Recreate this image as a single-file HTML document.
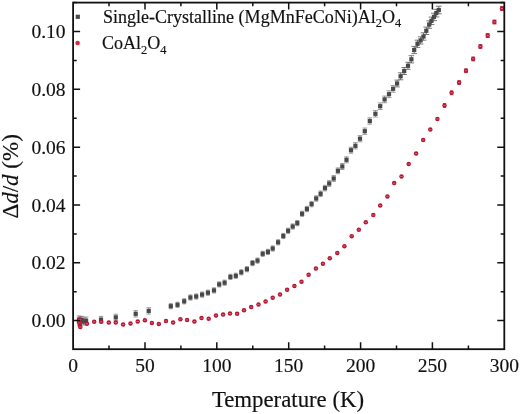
<!DOCTYPE html><html><head><meta charset="utf-8"><title>Thermal expansion</title><style>html,body{margin:0;padding:0;background:#fff}svg{display:block}text{font-family:"Liberation Serif","DejaVu Serif",serif;fill:#111;stroke:#111;stroke-width:0.16px}</style></head><body>
<svg width="520" height="414" viewBox="0 0 520 414">
<rect width="520" height="414" fill="#fff"/>
<g stroke="#606060" stroke-width="0.6" fill="#484848">
<path d="M79.0 315.9V323.1M76.6 315.9H81.4M76.6 323.1H81.4" fill="none"/><rect x="76.9" y="317.4" width="4.2" height="4.2" stroke="none"/>
<path d="M80.5 316.9V324.1M78.1 316.9H82.9M78.1 324.1H82.9" fill="none"/><rect x="78.4" y="318.4" width="4.2" height="4.2" stroke="none"/>
<path d="M82.0 316.4V323.6M79.6 316.4H84.4M79.6 323.6H84.4" fill="none"/><rect x="79.9" y="317.9" width="4.2" height="4.2" stroke="none"/>
<path d="M83.5 317.9V325.1M81.1 317.9H85.9M81.1 325.1H85.9" fill="none"/><rect x="81.4" y="319.4" width="4.2" height="4.2" stroke="none"/>
<path d="M86.1 317.0V324.2M83.7 317.0H88.5M83.7 324.2H88.5" fill="none"/><rect x="84.0" y="318.5" width="4.2" height="4.2" stroke="none"/>
<path d="M101.0 316.4V322.8M98.7 316.4H103.3M98.7 322.8H103.3" fill="none"/><rect x="98.9" y="317.5" width="4.2" height="4.2" stroke="none"/>
<path d="M115.8 314.2V320.6M113.5 314.2H118.1M113.5 320.6H118.1" fill="none"/><rect x="113.7" y="315.3" width="4.2" height="4.2" stroke="none"/>
<path d="M135.7 310.6V317.0M133.4 310.6H138.0M133.4 317.0H138.0" fill="none"/><rect x="133.6" y="311.7" width="4.2" height="4.2" stroke="none"/>
<path d="M148.7 307.7V314.1M146.4 307.7H151.0M146.4 314.1H151.0" fill="none"/><rect x="146.6" y="308.8" width="4.2" height="4.2" stroke="none"/>
<path d="M170.8 303.6V308.8M168.9 303.6H172.7M168.9 308.8H172.7" fill="none"/><rect x="168.7" y="304.1" width="4.2" height="4.2" stroke="none"/>
<path d="M177.5 302.2V307.4M175.6 302.2H179.4M175.6 307.4H179.4" fill="none"/><rect x="175.4" y="302.7" width="4.2" height="4.2" stroke="none"/>
<path d="M184.2 298.7V303.9M182.3 298.7H186.1M182.3 303.9H186.1" fill="none"/><rect x="182.1" y="299.2" width="4.2" height="4.2" stroke="none"/>
<path d="M190.4 294.9V300.1M188.5 294.9H192.3M188.5 300.1H192.3" fill="none"/><rect x="188.3" y="295.4" width="4.2" height="4.2" stroke="none"/>
<path d="M196.2 293.9V299.1M194.3 293.9H198.1M194.3 299.1H198.1" fill="none"/><rect x="194.1" y="294.4" width="4.2" height="4.2" stroke="none"/>
<path d="M202.1 292.0V297.2M200.2 292.0H204.0M200.2 297.2H204.0" fill="none"/><rect x="200.0" y="292.5" width="4.2" height="4.2" stroke="none"/>
<path d="M207.9 290.1V295.3M206.0 290.1H209.8M206.0 295.3H209.8" fill="none"/><rect x="205.8" y="290.6" width="4.2" height="4.2" stroke="none"/>
<path d="M214.0 287.8V293.0M212.1 287.8H215.9M212.1 293.0H215.9" fill="none"/><rect x="211.9" y="288.3" width="4.2" height="4.2" stroke="none"/>
<path d="M219.2 281.8V287.0M217.3 281.8H221.1M217.3 287.0H221.1" fill="none"/><rect x="217.1" y="282.3" width="4.2" height="4.2" stroke="none"/>
<path d="M224.6 280.1V285.3M222.7 280.1H226.5M222.7 285.3H226.5" fill="none"/><rect x="222.5" y="280.6" width="4.2" height="4.2" stroke="none"/>
<path d="M230.4 274.3V279.5M228.5 274.3H232.3M228.5 279.5H232.3" fill="none"/><rect x="228.3" y="274.8" width="4.2" height="4.2" stroke="none"/>
<path d="M235.8 273.2V278.4M233.9 273.2H237.7M233.9 278.4H237.7" fill="none"/><rect x="233.7" y="273.7" width="4.2" height="4.2" stroke="none"/>
<path d="M241.3 269.7V274.9M239.4 269.7H243.2M239.4 274.9H243.2" fill="none"/><rect x="239.2" y="270.2" width="4.2" height="4.2" stroke="none"/>
<path d="M246.9 266.6V271.8M245.0 266.6H248.8M245.0 271.8H248.8" fill="none"/><rect x="244.8" y="267.1" width="4.2" height="4.2" stroke="none"/>
<path d="M252.5 260.5V265.7M250.6 260.5H254.4M250.6 265.7H254.4" fill="none"/><rect x="250.4" y="261.0" width="4.2" height="4.2" stroke="none"/>
<path d="M257.5 258.0V263.2M255.6 258.0H259.4M255.6 263.2H259.4" fill="none"/><rect x="255.4" y="258.5" width="4.2" height="4.2" stroke="none"/>
<path d="M262.7 251.2V256.4M260.8 251.2H264.6M260.8 256.4H264.6" fill="none"/><rect x="260.6" y="251.7" width="4.2" height="4.2" stroke="none"/>
<path d="M267.9 249.3V254.5M266.0 249.3H269.8M266.0 254.5H269.8" fill="none"/><rect x="265.8" y="249.8" width="4.2" height="4.2" stroke="none"/>
<path d="M272.7 245.9V251.1M270.8 245.9H274.6M270.8 251.1H274.6" fill="none"/><rect x="270.6" y="246.4" width="4.2" height="4.2" stroke="none"/>
<path d="M278.1 239.7V244.9M276.2 239.7H280.0M276.2 244.9H280.0" fill="none"/><rect x="276.0" y="240.2" width="4.2" height="4.2" stroke="none"/>
<path d="M283.3 233.4V238.6M281.4 233.4H285.2M281.4 238.6H285.2" fill="none"/><rect x="281.2" y="233.9" width="4.2" height="4.2" stroke="none"/>
<path d="M288.1 228.2V233.4M286.2 228.2H290.0M286.2 233.4H290.0" fill="none"/><rect x="286.0" y="228.7" width="4.2" height="4.2" stroke="none"/>
<path d="M292.7 223.9V229.1M290.8 223.9H294.6M290.8 229.1H294.6" fill="none"/><rect x="290.6" y="224.4" width="4.2" height="4.2" stroke="none"/>
<path d="M297.3 220.5V225.7M295.4 220.5H299.2M295.4 225.7H299.2" fill="none"/><rect x="295.2" y="221.0" width="4.2" height="4.2" stroke="none"/>
<path d="M302.1 211.2V216.4M300.2 211.2H304.0M300.2 216.4H304.0" fill="none"/><rect x="300.0" y="211.7" width="4.2" height="4.2" stroke="none"/>
<path d="M306.9 206.3V211.7M304.9 206.3H308.9M304.9 211.7H308.9" fill="none"/><rect x="304.8" y="206.9" width="4.2" height="4.2" stroke="none"/>
<path d="M311.6 201.4V206.8M309.6 201.4H313.6M309.6 206.8H313.6" fill="none"/><rect x="309.5" y="202.0" width="4.2" height="4.2" stroke="none"/>
<path d="M316.2 195.8V201.2M314.2 195.8H318.2M314.2 201.2H318.2" fill="none"/><rect x="314.1" y="196.4" width="4.2" height="4.2" stroke="none"/>
<path d="M320.6 191.0V196.6M318.5 191.0H322.7M318.5 196.6H322.7" fill="none"/><rect x="318.5" y="191.7" width="4.2" height="4.2" stroke="none"/>
<path d="M325.0 185.3V190.9M322.9 185.3H327.1M322.9 190.9H327.1" fill="none"/><rect x="322.9" y="186.0" width="4.2" height="4.2" stroke="none"/>
<path d="M329.2 180.6V186.4M327.1 180.6H331.3M327.1 186.4H331.3" fill="none"/><rect x="327.1" y="181.4" width="4.2" height="4.2" stroke="none"/>
<path d="M333.7 175.6V181.4M331.5 175.6H335.9M331.5 181.4H335.9" fill="none"/><rect x="331.6" y="176.4" width="4.2" height="4.2" stroke="none"/>
<path d="M337.9 167.9V173.7M335.7 167.9H340.1M335.7 173.7H340.1" fill="none"/><rect x="335.8" y="168.7" width="4.2" height="4.2" stroke="none"/>
<path d="M342.3 163.5V169.5M340.1 163.5H344.5M340.1 169.5H344.5" fill="none"/><rect x="340.2" y="164.4" width="4.2" height="4.2" stroke="none"/>
<path d="M346.5 156.8V162.8M344.2 156.8H348.8M344.2 162.8H348.8" fill="none"/><rect x="344.4" y="157.7" width="4.2" height="4.2" stroke="none"/>
<path d="M351.0 147.2V153.2M348.7 147.2H353.3M348.7 153.2H353.3" fill="none"/><rect x="348.9" y="148.1" width="4.2" height="4.2" stroke="none"/>
<path d="M355.4 142.7V148.9M353.1 142.7H357.7M353.1 148.9H357.7" fill="none"/><rect x="353.3" y="143.7" width="4.2" height="4.2" stroke="none"/>
<path d="M360.0 135.6V141.8M357.6 135.6H362.4M357.6 141.8H362.4" fill="none"/><rect x="357.9" y="136.6" width="4.2" height="4.2" stroke="none"/>
<path d="M364.8 128.0V134.4M362.4 128.0H367.2M362.4 134.4H367.2" fill="none"/><rect x="362.7" y="129.1" width="4.2" height="4.2" stroke="none"/>
<path d="M369.8 117.8V124.2M367.4 117.8H372.2M367.4 124.2H372.2" fill="none"/><rect x="367.7" y="118.9" width="4.2" height="4.2" stroke="none"/>
<path d="M375.4 110.6V117.0M372.9 110.6H377.9M372.9 117.0H377.9" fill="none"/><rect x="373.3" y="111.7" width="4.2" height="4.2" stroke="none"/>
<path d="M380.2 102.9V109.5M377.7 102.9H382.7M377.7 109.5H382.7" fill="none"/><rect x="378.1" y="104.1" width="4.2" height="4.2" stroke="none"/>
<path d="M384.6 96.1V102.7M382.0 96.1H387.2M382.0 102.7H387.2" fill="none"/><rect x="382.5" y="97.3" width="4.2" height="4.2" stroke="none"/>
<path d="M389.0 90.8V97.6M386.4 90.8H391.6M386.4 97.6H391.6" fill="none"/><rect x="386.9" y="92.1" width="4.2" height="4.2" stroke="none"/>
<path d="M393.1 85.4V92.2M390.5 85.4H395.7M390.5 92.2H395.7" fill="none"/><rect x="391.0" y="86.7" width="4.2" height="4.2" stroke="none"/>
<path d="M397.1 80.1V86.9M394.4 80.1H399.8M394.4 86.9H399.8" fill="none" stroke="#505050" stroke-width="0.75"/><rect x="395.0" y="81.4" width="4.2" height="4.2" stroke="none"/>
<path d="M400.6 72.8V79.8M397.9 72.8H403.3M397.9 79.8H403.3" fill="none" stroke="#505050" stroke-width="0.75"/><rect x="398.5" y="74.2" width="4.2" height="4.2" stroke="none"/>
<path d="M404.2 67.5V74.5M401.5 67.5H406.9M401.5 74.5H406.9" fill="none" stroke="#505050" stroke-width="0.75"/><rect x="402.1" y="68.9" width="4.2" height="4.2" stroke="none"/>
<path d="M408.0 62.3V69.3M405.3 62.3H410.7M405.3 69.3H410.7" fill="none" stroke="#505050" stroke-width="0.75"/><rect x="405.9" y="63.7" width="4.2" height="4.2" stroke="none"/>
<path d="M411.4 55.7V62.9M408.6 55.7H414.2M408.6 62.9H414.2" fill="none" stroke="#505050" stroke-width="0.75"/><rect x="409.3" y="57.2" width="4.2" height="4.2" stroke="none"/>
<path d="M414.2 46.4V53.6M411.4 46.4H417.0M411.4 53.6H417.0" fill="none" stroke="#505050" stroke-width="0.75"/><rect x="412.1" y="47.9" width="4.2" height="4.2" stroke="none"/>
<path d="M417.5 40.2V47.4M414.7 40.2H420.3M414.7 47.4H420.3" fill="none" stroke="#505050" stroke-width="0.75"/><rect x="415.4" y="41.7" width="4.2" height="4.2" stroke="none"/>
<path d="M420.6 36.8V44.0M417.8 36.8H423.4M417.8 44.0H423.4" fill="none" stroke="#505050" stroke-width="0.75"/><rect x="418.5" y="38.3" width="4.2" height="4.2" stroke="none"/>
<path d="M423.5 32.8V40.2M420.6 32.8H426.4M420.6 40.2H426.4" fill="none" stroke="#505050" stroke-width="0.75"/><rect x="421.4" y="34.4" width="4.2" height="4.2" stroke="none"/>
<path d="M426.3 27.1V34.5M423.4 27.1H429.2M423.4 34.5H429.2" fill="none" stroke="#505050" stroke-width="0.75"/><rect x="424.2" y="28.7" width="4.2" height="4.2" stroke="none"/>
<path d="M429.2 20.9V28.3M426.3 20.9H432.1M426.3 28.3H432.1" fill="none" stroke="#505050" stroke-width="0.75"/><rect x="427.1" y="22.5" width="4.2" height="4.2" stroke="none"/>
<path d="M431.5 17.1V24.5M428.6 17.1H434.4M428.6 24.5H434.4" fill="none" stroke="#505050" stroke-width="0.75"/><rect x="429.4" y="18.7" width="4.2" height="4.2" stroke="none"/>
<path d="M434.0 13.2V20.6M431.0 13.2H437.0M431.0 20.6H437.0" fill="none" stroke="#505050" stroke-width="0.75"/><rect x="431.9" y="14.8" width="4.2" height="4.2" stroke="none"/>
<path d="M436.3 9.3V16.9M433.3 9.3H439.3M433.3 16.9H439.3" fill="none" stroke="#505050" stroke-width="0.75"/><rect x="434.2" y="11.0" width="4.2" height="4.2" stroke="none"/>
<path d="M438.8 6.2V13.8M435.8 6.2H441.8M435.8 13.8H441.8" fill="none" stroke="#505050" stroke-width="0.75"/><rect x="436.7" y="7.9" width="4.2" height="4.2" stroke="none"/>
</g>
<g>
<circle cx="78.8" cy="321.0" r="2.25" fill="#b4152f"/><rect x="77.6" y="320.5" width="2.4" height="1" fill="#e2607a"/>
<circle cx="79.3" cy="323.0" r="2.25" fill="#b4152f"/><rect x="78.1" y="322.5" width="2.4" height="1" fill="#e2607a"/>
<circle cx="79.8" cy="325.5" r="2.25" fill="#b4152f"/><rect x="78.6" y="325.0" width="2.4" height="1" fill="#e2607a"/>
<circle cx="80.3" cy="327.0" r="2.25" fill="#b4152f"/><rect x="79.1" y="326.5" width="2.4" height="1" fill="#e2607a"/>
<circle cx="79.5" cy="319.8" r="2.25" fill="#b4152f"/><rect x="78.3" y="319.3" width="2.4" height="1" fill="#e2607a"/>
<circle cx="86.9" cy="323.8" r="2.25" fill="#b4152f"/><rect x="85.7" y="323.3" width="2.4" height="1" fill="#e2607a"/>
<circle cx="94.2" cy="321.8" r="2.25" fill="#b4152f"/><rect x="93.0" y="321.3" width="2.4" height="1" fill="#e2607a"/>
<circle cx="101.2" cy="321.8" r="2.25" fill="#b4152f"/><rect x="100.0" y="321.3" width="2.4" height="1" fill="#e2607a"/>
<circle cx="108.8" cy="322.6" r="2.25" fill="#b4152f"/><rect x="107.6" y="322.1" width="2.4" height="1" fill="#e2607a"/>
<circle cx="115.8" cy="322.6" r="2.25" fill="#b4152f"/><rect x="114.6" y="322.1" width="2.4" height="1" fill="#e2607a"/>
<circle cx="123.1" cy="324.5" r="2.25" fill="#b4152f"/><rect x="121.9" y="324.0" width="2.4" height="1" fill="#e2607a"/>
<circle cx="130.5" cy="323.4" r="2.25" fill="#b4152f"/><rect x="129.3" y="322.9" width="2.4" height="1" fill="#e2607a"/>
<circle cx="137.7" cy="321.5" r="2.25" fill="#b4152f"/><rect x="136.5" y="321.0" width="2.4" height="1" fill="#e2607a"/>
<circle cx="144.9" cy="320.2" r="2.25" fill="#b4152f"/><rect x="143.7" y="319.7" width="2.4" height="1" fill="#e2607a"/>
<circle cx="151.9" cy="322.9" r="2.25" fill="#b4152f"/><rect x="150.7" y="322.4" width="2.4" height="1" fill="#e2607a"/>
<circle cx="158.8" cy="324.0" r="2.25" fill="#b4152f"/><rect x="157.6" y="323.5" width="2.4" height="1" fill="#e2607a"/>
<circle cx="166.0" cy="321.0" r="2.25" fill="#b4152f"/><rect x="164.8" y="320.5" width="2.4" height="1" fill="#e2607a"/>
<circle cx="173.1" cy="322.5" r="2.25" fill="#b4152f"/><rect x="171.9" y="322.0" width="2.4" height="1" fill="#e2607a"/>
<circle cx="180.4" cy="319.2" r="2.25" fill="#b4152f"/><rect x="179.2" y="318.7" width="2.4" height="1" fill="#e2607a"/>
<circle cx="187.1" cy="320.0" r="2.25" fill="#b4152f"/><rect x="185.9" y="319.5" width="2.4" height="1" fill="#e2607a"/>
<circle cx="194.4" cy="321.5" r="2.25" fill="#b4152f"/><rect x="193.2" y="321.0" width="2.4" height="1" fill="#e2607a"/>
<circle cx="201.5" cy="318.1" r="2.25" fill="#b4152f"/><rect x="200.3" y="317.6" width="2.4" height="1" fill="#e2607a"/>
<circle cx="208.7" cy="318.7" r="2.25" fill="#b4152f"/><rect x="207.5" y="318.2" width="2.4" height="1" fill="#e2607a"/>
<circle cx="216.0" cy="315.4" r="2.25" fill="#b4152f"/><rect x="214.8" y="314.9" width="2.4" height="1" fill="#e2607a"/>
<circle cx="223.1" cy="314.6" r="2.25" fill="#b4152f"/><rect x="221.9" y="314.1" width="2.4" height="1" fill="#e2607a"/>
<circle cx="230.0" cy="313.5" r="2.25" fill="#b4152f"/><rect x="228.8" y="313.0" width="2.4" height="1" fill="#e2607a"/>
<circle cx="237.1" cy="313.8" r="2.25" fill="#b4152f"/><rect x="235.9" y="313.3" width="2.4" height="1" fill="#e2607a"/>
<circle cx="244.0" cy="310.2" r="2.25" fill="#b4152f"/><rect x="242.8" y="309.7" width="2.4" height="1" fill="#e2607a"/>
<circle cx="251.2" cy="307.1" r="2.25" fill="#b4152f"/><rect x="250.0" y="306.6" width="2.4" height="1" fill="#e2607a"/>
<circle cx="258.5" cy="304.4" r="2.25" fill="#b4152f"/><rect x="257.3" y="303.9" width="2.4" height="1" fill="#e2607a"/>
<circle cx="265.6" cy="301.5" r="2.25" fill="#b4152f"/><rect x="264.4" y="301.0" width="2.4" height="1" fill="#e2607a"/>
<circle cx="272.7" cy="297.7" r="2.25" fill="#b4152f"/><rect x="271.5" y="297.2" width="2.4" height="1" fill="#e2607a"/>
<circle cx="280.0" cy="294.6" r="2.25" fill="#b4152f"/><rect x="278.8" y="294.1" width="2.4" height="1" fill="#e2607a"/>
<circle cx="287.1" cy="289.8" r="2.25" fill="#b4152f"/><rect x="285.9" y="289.3" width="2.4" height="1" fill="#e2607a"/>
<circle cx="294.4" cy="286.0" r="2.25" fill="#b4152f"/><rect x="293.2" y="285.5" width="2.4" height="1" fill="#e2607a"/>
<circle cx="301.5" cy="281.7" r="2.25" fill="#b4152f"/><rect x="300.3" y="281.2" width="2.4" height="1" fill="#e2607a"/>
<circle cx="308.6" cy="274.7" r="2.25" fill="#b4152f"/><rect x="307.4" y="274.2" width="2.4" height="1" fill="#e2607a"/>
<circle cx="315.9" cy="268.5" r="2.25" fill="#b4152f"/><rect x="314.7" y="268.0" width="2.4" height="1" fill="#e2607a"/>
<circle cx="322.9" cy="263.7" r="2.25" fill="#b4152f"/><rect x="321.7" y="263.2" width="2.4" height="1" fill="#e2607a"/>
<circle cx="329.8" cy="258.2" r="2.25" fill="#b4152f"/><rect x="328.6" y="257.7" width="2.4" height="1" fill="#e2607a"/>
<circle cx="337.3" cy="252.9" r="2.25" fill="#b4152f"/><rect x="336.1" y="252.4" width="2.4" height="1" fill="#e2607a"/>
<circle cx="344.4" cy="246.2" r="2.25" fill="#b4152f"/><rect x="343.2" y="245.7" width="2.4" height="1" fill="#e2607a"/>
<circle cx="351.7" cy="236.2" r="2.25" fill="#b4152f"/><rect x="350.5" y="235.7" width="2.4" height="1" fill="#e2607a"/>
<circle cx="358.8" cy="229.8" r="2.25" fill="#b4152f"/><rect x="357.6" y="229.3" width="2.4" height="1" fill="#e2607a"/>
<circle cx="365.8" cy="222.3" r="2.25" fill="#b4152f"/><rect x="364.6" y="221.8" width="2.4" height="1" fill="#e2607a"/>
<circle cx="373.3" cy="215.0" r="2.25" fill="#b4152f"/><rect x="372.1" y="214.5" width="2.4" height="1" fill="#e2607a"/>
<circle cx="380.2" cy="205.5" r="2.25" fill="#b4152f"/><rect x="379.0" y="205.0" width="2.4" height="1" fill="#e2607a"/>
<circle cx="387.4" cy="196.4" r="2.25" fill="#b4152f"/><rect x="386.2" y="195.9" width="2.4" height="1" fill="#e2607a"/>
<circle cx="394.2" cy="183.1" r="2.25" fill="#b4152f"/><rect x="393.0" y="182.6" width="2.4" height="1" fill="#e2607a"/>
<circle cx="401.5" cy="176.5" r="2.25" fill="#b4152f"/><rect x="400.3" y="176.0" width="2.4" height="1" fill="#e2607a"/>
<circle cx="408.7" cy="164.1" r="2.25" fill="#b4152f"/><rect x="407.5" y="163.6" width="2.4" height="1" fill="#e2607a"/>
<circle cx="416.1" cy="153.6" r="2.25" fill="#b4152f"/><rect x="414.9" y="153.1" width="2.4" height="1" fill="#e2607a"/>
<circle cx="423.2" cy="140.1" r="2.25" fill="#b4152f"/><rect x="422.0" y="139.6" width="2.4" height="1" fill="#e2607a"/>
<circle cx="430.3" cy="129.6" r="2.25" fill="#b4152f"/><rect x="429.1" y="129.1" width="2.4" height="1" fill="#e2607a"/>
<circle cx="437.4" cy="119.0" r="2.25" fill="#b4152f"/><rect x="436.2" y="118.5" width="2.4" height="1" fill="#e2607a"/>
<path d="M443.0 103.5h3.1M443.0 107.3h3.1" stroke="#a8182f" stroke-width="0.8" fill="none"/><circle cx="444.5" cy="105.4" r="2.25" fill="#b4152f"/><rect x="443.3" y="104.9" width="2.4" height="1" fill="#e2607a"/>
<path d="M450.0 90.9h3.2M450.0 94.7h3.2" stroke="#a8182f" stroke-width="0.8" fill="none"/><circle cx="451.6" cy="92.8" r="2.25" fill="#b4152f"/><rect x="450.4" y="92.3" width="2.4" height="1" fill="#e2607a"/>
<path d="M457.4 80.7h3.4M457.4 84.5h3.4" stroke="#a8182f" stroke-width="0.8" fill="none"/><circle cx="459.1" cy="82.6" r="2.25" fill="#b4152f"/><rect x="457.9" y="82.1" width="2.4" height="1" fill="#e2607a"/>
<path d="M464.2 68.8h3.5M464.2 72.6h3.5" stroke="#a8182f" stroke-width="0.8" fill="none"/><circle cx="466.0" cy="70.7" r="2.25" fill="#b4152f"/><rect x="464.8" y="70.2" width="2.4" height="1" fill="#e2607a"/>
<path d="M471.3 57.0h3.7M471.3 60.8h3.7" stroke="#a8182f" stroke-width="0.8" fill="none"/><circle cx="473.1" cy="58.9" r="2.25" fill="#b4152f"/><rect x="471.9" y="58.4" width="2.4" height="1" fill="#e2607a"/>
<path d="M478.5 44.6h3.8M478.5 48.4h3.8" stroke="#a8182f" stroke-width="0.8" fill="none"/><circle cx="480.4" cy="46.5" r="2.25" fill="#b4152f"/><rect x="479.2" y="46.0" width="2.4" height="1" fill="#e2607a"/>
<path d="M485.7 33.7h4.0M485.7 37.5h4.0" stroke="#a8182f" stroke-width="0.8" fill="none"/><circle cx="487.7" cy="35.6" r="2.25" fill="#b4152f"/><rect x="486.5" y="35.1" width="2.4" height="1" fill="#e2607a"/>
<path d="M492.4 20.1h4.1M492.4 23.9h4.1" stroke="#a8182f" stroke-width="0.8" fill="none"/><circle cx="494.4" cy="22.0" r="2.25" fill="#b4152f"/><rect x="493.2" y="21.5" width="2.4" height="1" fill="#e2607a"/>
<path d="M499.9 6.6h4.2M499.9 10.4h4.2" stroke="#a8182f" stroke-width="0.8" fill="none"/><circle cx="502.0" cy="8.5" r="2.25" fill="#b4152f"/><rect x="500.8" y="8.0" width="2.4" height="1" fill="#e2607a"/>
</g>
<rect x="73.1" y="2.6" width="431.2" height="346.6" fill="none" stroke="#111" stroke-width="1.8"/>
<path d="M109.0 349.2v-3.6M109.0 2.6v3.6M145.0 349.2v-7M145.0 2.6v7M180.9 349.2v-3.6M180.9 2.6v3.6M216.8 349.2v-7M216.8 2.6v7M252.8 349.2v-3.6M252.8 2.6v3.6M288.7 349.2v-7M288.7 2.6v7M324.6 349.2v-3.6M324.6 2.6v3.6M360.6 349.2v-7M360.6 2.6v7M396.5 349.2v-3.6M396.5 2.6v3.6M432.4 349.2v-7M432.4 2.6v7M468.4 349.2v-3.6M468.4 2.6v3.6M73.1 320.6h7M504.3 320.6h-7M73.1 291.7h3.6M504.3 291.7h-3.6M73.1 262.8h7M504.3 262.8h-7M73.1 233.9h3.6M504.3 233.9h-3.6M73.1 205.0h7M504.3 205.0h-7M73.1 176.1h3.6M504.3 176.1h-3.6M73.1 147.2h7M504.3 147.2h-7M73.1 118.2h3.6M504.3 118.2h-3.6M73.1 89.3h7M504.3 89.3h-7M73.1 60.4h3.6M504.3 60.4h-3.6M73.1 31.5h7M504.3 31.5h-7M73.1 2.6h3.6M504.3 2.6h-3.6" stroke="#111" stroke-width="1.5" fill="none"/>
<text x="73.1" y="372.2" font-size="19.5" text-anchor="middle">0</text>
<text x="145.0" y="372.2" font-size="19.5" text-anchor="middle">50</text>
<text x="216.8" y="372.2" font-size="19.5" text-anchor="middle">100</text>
<text x="288.7" y="372.2" font-size="19.5" text-anchor="middle">150</text>
<text x="360.6" y="372.2" font-size="19.5" text-anchor="middle">200</text>
<text x="432.4" y="372.2" font-size="19.5" text-anchor="middle">250</text>
<text x="504.3" y="372.2" font-size="19.5" text-anchor="middle">300</text>
<text x="65.6" y="327.2" font-size="19.5" text-anchor="end">0.00</text>
<text x="65.6" y="269.4" font-size="19.5" text-anchor="end">0.02</text>
<text x="65.6" y="211.6" font-size="19.5" text-anchor="end">0.04</text>
<text x="65.6" y="153.8" font-size="19.5" text-anchor="end">0.06</text>
<text x="65.6" y="95.9" font-size="19.5" text-anchor="end">0.08</text>
<text x="65.6" y="38.1" font-size="19.5" text-anchor="end">0.10</text>
<text x="288" y="407.1" font-size="22.8" text-anchor="middle">Temperature (K)</text>
<text transform="translate(18.2 176.4) rotate(-90)" font-size="23" text-anchor="middle">Δ<tspan font-style="italic">d</tspan>/<tspan font-style="italic">d</tspan> (%)</text>
<rect x="75.7" y="14.7" width="4.2" height="4.2" fill="#4a4a4a"/>
<circle cx="77.6" cy="43" r="2.3" fill="#e0263c"/>
<text x="102.9" y="22.9" font-size="18.05">Single-Crystalline (MgMnFeCoNi)Al<tspan font-size="12.4" dy="4.4">2</tspan><tspan dy="-4.4">O</tspan><tspan font-size="12.4" dy="4.4">4</tspan></text>
<text x="102.0" y="49.2" font-size="18.05">CoAl<tspan font-size="12.4" dy="4.4">2</tspan><tspan dy="-4.4">O</tspan><tspan font-size="12.4" dy="4.4">4</tspan></text>
</svg></body></html>
